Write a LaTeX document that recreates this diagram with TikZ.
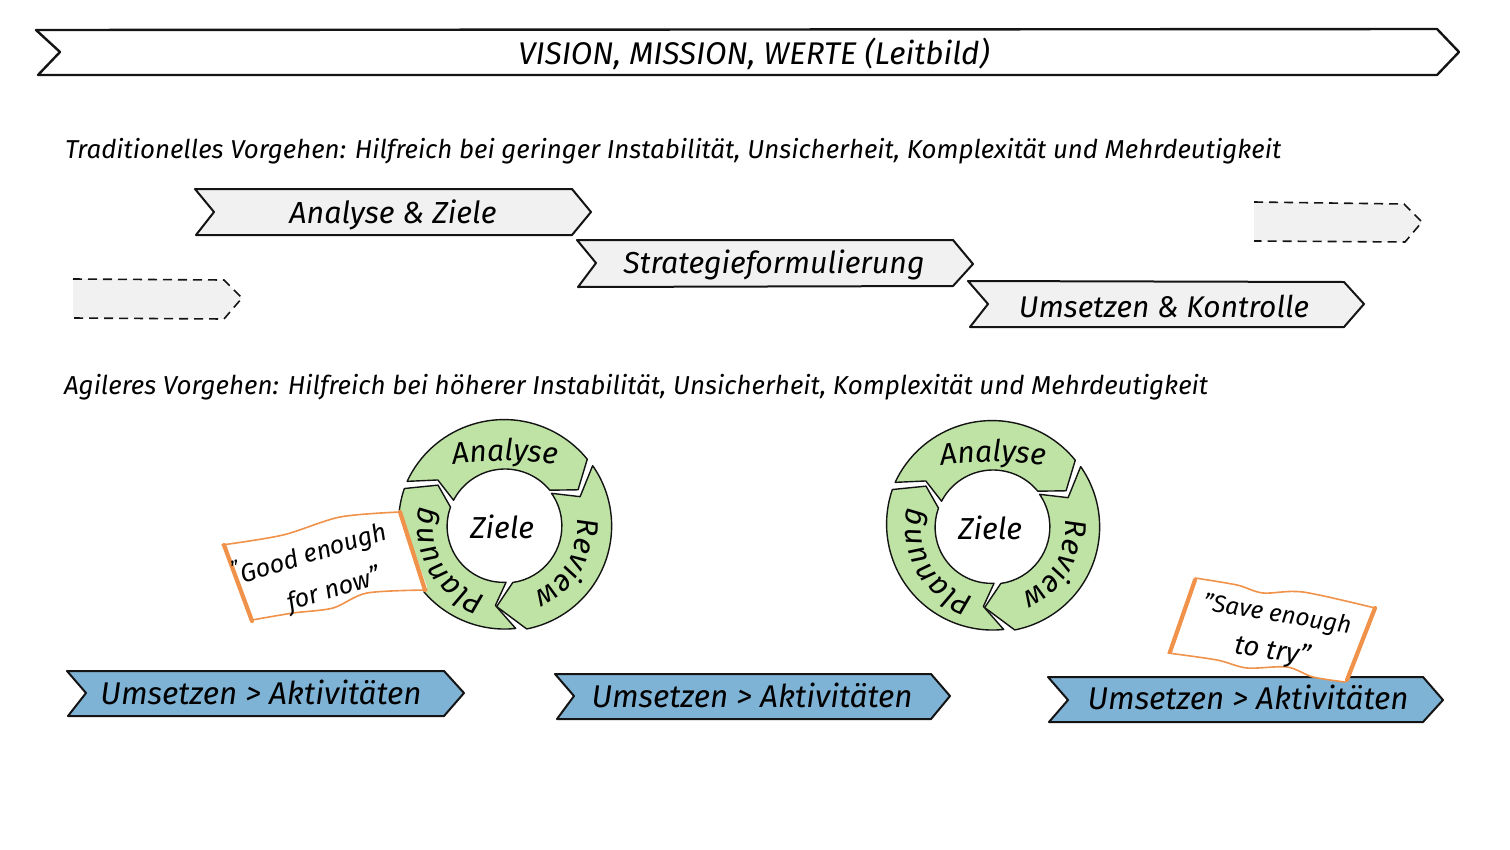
\documentclass[tikz,border=0pt]{standalone}
\usepackage{fontspec}
\usepackage{graphicx}
\setmainfont{Fira Sans}
\usetikzlibrary{decorations.text}
\definecolor{greyfill}{HTML}{F1F1F1}
\definecolor{bluefill}{HTML}{7FB3D5}
\definecolor{greenfill}{HTML}{BFE3A5}
\definecolor{orangeline}{HTML}{F0924A}
\definecolor{inkline}{HTML}{141414}
\tikzset{
  outline/.style={draw=inkline,line width=2pt,line join=round,line cap=round},
  thinline/.style={draw=inkline,line width=1.4pt,line join=round},
  dashline/.style={draw=inkline,line width=1.6pt,dash pattern=on 9pt off 6pt},
  label/.style={inner sep=0pt,outer sep=0pt,anchor=base,text=black},
  stickerthin/.style={draw=orangeline,line width=1.6pt,line cap=round,line join=round},
  stickerthick/.style={draw=orangeline,line width=4.2pt,line cap=round,line join=round},
}
\newcommand{\fw}[2]{\resizebox{#1pt}{!}{\itshape\strut #2}}
\newcommand{\wf}{\fontsize{30}{30}\selectfont\itshape}
\newcommand{\wheelat}[3]{%
  \begin{scope}[shift={(#2,#3)}]
    \filldraw[fill=greenfill,thinline] (155:108) arc[start angle=155,end angle=39,radius=107]
      -- (27:82) -- (39.4:58) arc[start angle=39.4,end angle=152.5,radius=58] -- (145:82) -- cycle;
    \filldraw[fill=greenfill,thinline] (35:107) arc[start angle=35,end angle=-79,radius=105]
      -- (-96:80) -- (-82:56) arc[start angle=-82,end angle=35,radius=57] -- (22:81) -- cycle;
    \filldraw[fill=greenfill,thinline] (-84:102) arc[start angle=-84,end angle=-199,radius=106]
      -- (148:79) -- (160:58) arc[start angle=160,end angle=273,radius=56] -- (-97:79) -- cycle;
    \path[decorate,decoration={text along path,text align=center,text={|\wf|Analyse}}]
      (-58,61) .. controls (-25,68) and (25,68) .. (58,61);
    \path[decorate,decoration={text along path,text align=center,text={|\wf|Review}}]
      (8:72) arc[start angle=8,end angle=-68,radius=72];
    \path[decorate,decoration={text along path,text align=center,text={|\wf|Planung}}]
      (-112:72) arc[start angle=-112,end angle=-188,radius=72];
    \node[label] (#1) at (-3,-11) {\fw{64}{Ziele}};
  \end{scope}}
\begin{document}
\begin{tikzpicture}[x=1pt,y=1pt]
\useasboundingbox[fill=white] (0,0) rectangle (1510,-849);
% banner
\draw[outline,line width=2.4pt] (36,-30) -- (1437,-29) -- (1459,-52) -- (1437,-75) -- (38,-75) -- (60,-52) -- cycle;
\node[label] (title) at (754,-64) {\fw{471}{VISION, MISSION, WERTE (Leitbild)}};
\node[label,anchor=base west] (trad) at (65,-158) {\fw{1216}{Traditionelles Vorgehen: Hilfreich bei geringer Instabilität, Unsicherheit, Komplexität und Mehrdeutigkeit}};
% grey chevrons
\filldraw[fill=greyfill,outline] (195,-189) -- (572,-189) -- (591,-212) -- (572,-235) -- (196,-235) -- (214,-212) -- cycle;
\node[label] (analyseziele) at (393,-223) {\fw{207}{Analyse \& Ziele}};
\filldraw[fill=greyfill,outline] (577,-240) -- (953,-240) -- (973,-264) -- (953,-286) -- (578,-287) -- (596,-263) -- cycle;
\node[label] (strategie) at (774,-273) {\fw{301}{Strategieformulierung}};
\filldraw[fill=greyfill,outline] (968,-281) -- (1344,-282) -- (1364,-304) -- (1344,-327) -- (970,-327) -- (988,-304) -- cycle;
\node[label] (umsetzenk) at (1164,-317) {\fw{290}{Umsetzen \& Kontrolle}};
% dashed chevrons
\fill[greyfill] (1254,-202) -- (1404,-204) -- (1422,-222) -- (1405,-242) -- (1254,-241) -- cycle;
\draw[dashline] (1254,-202) -- (1404,-204) -- (1422,-222) -- (1405,-242) -- (1254,-241);
\fill[greyfill] (73,-279) -- (224,-280) -- (242,-298) -- (224,-319) -- (73,-318) -- cycle;
\draw[dashline] (73,-279) -- (224,-280) -- (242,-298) -- (224,-319) -- (73,-318);
\node[label,anchor=base west] (agil) at (64,-394) {\fw{1144}{Agileres Vorgehen: Hilfreich bei höherer Instabilität, Unsicherheit, Komplexität und Mehrdeutigkeit}};
% wheels
\wheelat{zielea}{505}{-527}
\wheelat{zieleb}{993}{-528}
% blue chevrons
\filldraw[fill=bluefill,outline] (67,-671) -- (444,-671) -- (464,-693) -- (444,-716) -- (68,-716) -- (86,-693) -- cycle;
\node[label] (umsa) at (261,-704) {\fw{321}{Umsetzen > Aktivitäten}};
\filldraw[fill=bluefill,outline] (555,-674) -- (931,-674) -- (950,-696) -- (931,-719) -- (557,-719) -- (574,-696) -- cycle;
\node[label] (umsb) at (752,-707) {\fw{321}{Umsetzen > Aktivitäten}};
\filldraw[fill=bluefill,outline] (1048,-677) -- (1423,-677) -- (1443,-700) -- (1423,-722) -- (1049,-722) -- (1068,-700) -- cycle;
\node[label] (umsc) at (1248,-709) {\fw{321}{Umsetzen > Aktivitäten}};
% sticker 1
\fill[white] plot[smooth] coordinates {(222,-545) (283,-535) (340,-517) (400,-512)} -- (427,-587)
  -- plot[smooth] coordinates {(423,-592) (367,-593) (333,-608) (293,-613) (252,-620)} -- cycle;
\draw[stickerthin] plot[smooth] coordinates {(222,-545) (283,-535) (340,-517) (400,-512)};
\draw[stickerthin] plot[smooth] coordinates {(427,-590) (367,-593) (333,-608) (293,-613) (252,-620)};
\draw[stickerthick] (400,-512) -- (425,-590);
\draw[stickerthick] (224,-545) -- (252,-621);
\node[label,rotate=17] (gooda) at (316,-561) {\resizebox{152pt}{!}{\itshape Good enough}};
\node[label,rotate=17] (goodb) at (336,-597) {\resizebox{96pt}{!}{\itshape for now"}};
\node[label,rotate=17] at (237,-575) {\resizebox{8pt}{!}{\itshape "}};
% sticker 2
\fill[white] plot[smooth] coordinates {(1195,-578) (1237,-585) (1263,-593) (1303,-592) (1375,-608)} -- (1345,-682)
  -- plot[smooth] coordinates {(1345,-682) (1313,-677) (1287,-667) (1247,-668) (1217,-660) (1168,-653)} -- cycle;
\draw[stickerthin] plot[smooth] coordinates {(1195,-578) (1237,-585) (1263,-593) (1303,-592) (1375,-608)};
\draw[stickerthin] plot[smooth] coordinates {(1345,-682) (1313,-677) (1287,-667) (1247,-668) (1217,-660) (1168,-653)};
\draw[stickerthick] (1375,-608) -- (1347,-680);
\draw[stickerthick] (1195,-580) -- (1170,-652);
\node[label,rotate=-9] (savea) at (1276,-622) {\resizebox{150pt}{!}{\itshape "Save enough}};
\node[label,rotate=-9] (saveb) at (1271,-659) {\resizebox{76pt}{!}{\itshape to try"}};
\end{tikzpicture}
\end{document}
